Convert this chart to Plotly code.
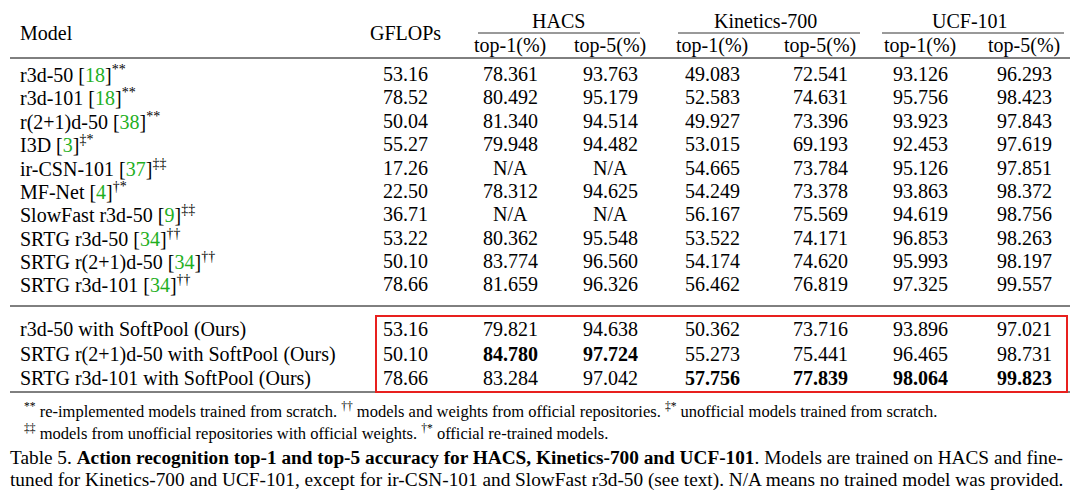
import plotly.graph_objects as go

models = [
    "r3d-50 [<span style='color:#1fb01f'>18</span>]<sup>**</sup>",
    "r3d-101 [<span style='color:#1fb01f'>18</span>]<sup>**</sup>",
    "r(2+1)d-50 [<span style='color:#1fb01f'>38</span>]<sup>**</sup>",
    "I3D [<span style='color:#1fb01f'>3</span>]<sup>‡*</sup>",
    "ir-CSN-101 [<span style='color:#1fb01f'>37</span>]<sup>‡‡</sup>",
    "MF-Net [<span style='color:#1fb01f'>4</span>]<sup>†*</sup>",
    "SlowFast r3d-50 [<span style='color:#1fb01f'>9</span>]<sup>‡‡</sup>",
    "SRTG r3d-50 [<span style='color:#1fb01f'>34</span>]<sup>††</sup>",
    "SRTG r(2+1)d-50 [<span style='color:#1fb01f'>34</span>]<sup>††</sup>",
    "SRTG r3d-101 [<span style='color:#1fb01f'>34</span>]<sup>††</sup>",
    "r3d-50 with SoftPool (Ours)",
    "SRTG r(2+1)d-50 with SoftPool (Ours)",
    "SRTG r3d-101 with SoftPool (Ours)",
]
gflops = ["53.16", "78.52", "50.04", "55.27", "17.26", "22.50", "36.71", "53.22", "50.10", "78.66", "53.16", "50.10", "78.66"]
hacs_top1 = ["78.361", "80.492", "81.340", "79.948", "N/A", "78.312", "N/A", "80.362", "83.774", "81.659", "79.821", "84.780", "83.284"]
hacs_top5 = ["93.763", "95.179", "94.514", "94.482", "N/A", "94.625", "N/A", "95.548", "96.560", "96.326", "94.638", "97.724", "97.042"]
k700_top1 = ["49.083", "52.583", "49.927", "53.015", "54.665", "54.249", "56.167", "53.522", "54.174", "56.462", "50.362", "55.273", "57.756"]
k700_top5 = ["72.541", "74.631", "73.396", "69.193", "73.784", "73.378", "75.569", "74.171", "74.620", "76.819", "73.716", "75.441", "77.839"]
ucf_top1 = ["93.126", "95.756", "93.923", "92.453", "95.126", "93.863", "94.619", "96.853", "95.993", "97.325", "93.896", "96.465", "98.064"]
ucf_top5 = ["96.293", "98.423", "97.843", "97.619", "97.851", "98.372", "98.756", "98.263", "98.197", "99.557", "97.021", "98.731", "99.823"]
bold = {(11, 1), (11, 2), (12, 3), (12, 4), (12, 5), (12, 6)}

groups = ["HACS", "Kinetics-700", "UCF-101"]
subheads = ["top-1(%)", "top-5(%)"]
footnotes = [
    "<sup>**</sup> re-implemented models trained from scratch. <sup>††</sup> models and weights from official repositories. <sup>‡*</sup> unofficial models trained from scratch.",
    "<sup>‡‡</sup> models from unofficial repositories with official weights. <sup>†*</sup> official re-trained models.",
]
caption = [
    "Table 5. <b>Action recognition top-1 and top-5 accuracy for HACS, Kinetics-700 and UCF-101</b>. Models are trained on HACS and fine-",
    "tuned for Kinetics-700 and UCF-101, except for ir-CSN-101 and SlowFast r3d-50 (see text). N/A means no trained model was provided.",
]

FONT = "Liberation Serif, Times New Roman, serif"
col_x = [405, 510, 610, 712, 820, 920, 1024]
group_x = [558, 765, 970]
row_y = [74, 97, 121, 144, 168, 191, 214, 238, 261, 284, 329, 354, 378]
OFF = 8  # page body margin

fig = go.Figure()
ann = []
def txt(x, y, t, size=20, anchor="center"):
    ann.append(dict(x=x, y=y, text=t, showarrow=False, xanchor=anchor, yanchor="middle",
                    font=dict(family=FONT, size=size, color="black")))

txt(18, 33, "Model", anchor="left")
txt(col_x[0], 33, "GFLOPs")
for i, g in enumerate(groups):
    txt(group_x[i], 21, g)
    for j, s in enumerate(subheads):
        txt(col_x[1 + 2 * i + j], 45, s)

cols = [gflops, hacs_top1, hacs_top5, k700_top1, k700_top5, ucf_top1, ucf_top5]
for r, m in enumerate(models):
    txt(18, row_y[r], m, anchor="left")
    for c, vals in enumerate(cols):
        v = vals[r]
        txt(col_x[c], row_y[r], f"<b>{v}</b>" if (r, c) in bold else v)

txt(22, 410, footnotes[0], size=16.5, anchor="left")
txt(22, 432, footnotes[1], size=16.5, anchor="left")
txt(8, 457, caption[0], size=19.3, anchor="left")
txt(8, 480, caption[1], size=19.3, anchor="left")

shapes = []
for y in [6, 58, 306, 392]:
    shapes.append(dict(type="line", x0=10, x1=1070, y0=y, y1=y, line=dict(color="black", width=1)))
for x0, x1 in [(478, 640), (678, 860), (882, 1064)]:
    shapes.append(dict(type="line", x0=x0, x1=x1, y0=33, y1=33, line=dict(color="black", width=0.8)))
shapes.append(dict(type="rect", x0=376, x1=1067, y0=316, y1=392, line=dict(color="#e8201e", width=2)))

fig.update_layout(
    width=1080, height=504, margin=dict(l=0, r=0, t=0, b=0),
    paper_bgcolor="white", plot_bgcolor="white",
    xaxis=dict(range=[OFF, 1080 + OFF], visible=False, fixedrange=True),
    yaxis=dict(range=[504 + OFF, OFF], visible=False, fixedrange=True),
    annotations=ann, shapes=shapes, showlegend=False,
)
fig.write_html("out.html")
